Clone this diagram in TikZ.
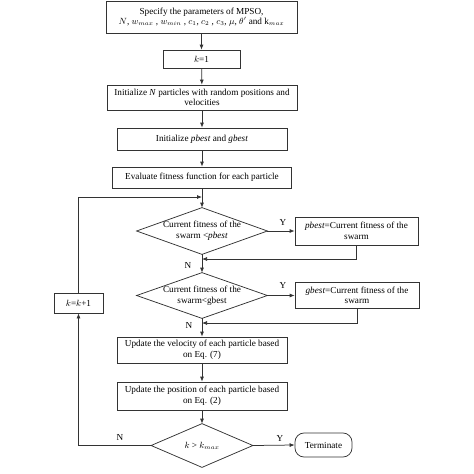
\documentclass[tikz,border=0pt]{standalone}
\usepackage{fontspec}
\setmainfont{Liberation Serif}
\usetikzlibrary{arrows.meta}
\begin{document}
\begin{tikzpicture}[x=1pt,y=-1pt,
  font=\fontsize{9.2}{10.6}\selectfont,
  line width=0.75pt,
  line/.style={draw=black!80},
  box/.style={draw=black!80,rectangle,align=center,inner sep=1pt},
  dia/.style={rectangle,align=center,inner sep=0pt},
  term/.style={draw=black!80,rectangle,rounded corners=9pt,align=center,inner sep=1pt},
  arr/.style={draw=black!80,-{Latex[length=5pt,width=4pt]}},
  lab/.style={inner sep=1pt}]
\useasboundingbox (0,0) rectangle (474,474);
% boxes
\node[box,minimum width=191,minimum height=32] (spec) at (201.5,17) {Specify the parameters of MPSO,\\ $N$, $w_{max}$ , $w_{min}$ , $c_1$, $c_2$ , $c_3$, $\mu$, $\theta'$ and k$_{max}$};
\node[box,minimum width=77,minimum height=18] (k1) at (201.5,59) {$k$=1};
\node[box,minimum width=190,minimum height=25] (init) at (202,97.5) {Initialize \textit{N} particles with random positions and\\velocities};
\node[box,minimum width=170,minimum height=22] (ipb) at (202,139) {Initialize \textit{pbest} and \textit{gbest}};
\node[box,minimum width=179,minimum height=21] (eval) at (202,177.5) {Evaluate fitness function for each particle};
\node[dia,minimum width=130,minimum height=46] (d1) at (202,231) {Current fitness of the\\swarm <\textit{pbest}};
\draw[line] (d1.north) -- (d1.east) -- (d1.south) -- (d1.west) -- cycle;
\node[box,minimum width=123,minimum height=28] (pb) at (356.5,231) {\textit{pbest}=Current fitness of the\\swarm};
\node[dia,minimum width=130,minimum height=45] (d2) at (202,295.5) {Current fitness of the\\swarm<gbest};
\draw[line] (d2.north) -- (d2.east) -- (d2.south) -- (d2.west) -- cycle;
\node[box,minimum width=124,minimum height=26] (gb) at (357,295.5) {\textit{gbest}=Current fitness of the\\swarm};
\node[box,minimum width=170,minimum height=26] (uv) at (202,350) {Update the velocity of each particle based\\on Eq. (7)};
\node[box,minimum width=170,minimum height=28] (up) at (202,396) {Update the position of each particle based\\on Eq. (2)};
\node[dia,minimum width=101,minimum height=43] (d3) at (202,445.5) {$k$ > $k_{max}$};
\draw[line] (d3.north) -- (d3.east) -- (d3.south) -- (d3.west) -- cycle;
\node[term,minimum width=57,minimum height=24] (term) at (323.5,445) {Terminate};
\node[box,minimum width=49,minimum height=20] (kk) at (78.5,303) {$k$=$k$+1};
\coordinate (j0) at (202,197);
\coordinate (j1) at (202,259);
\coordinate (j2) at (202,323);
% connectors
\draw[arr] (spec) -- (k1);
\draw[arr] (k1) -- (init);
\draw[arr] (init) -- (ipb);
\draw[arr] (ipb) -- (eval);
\draw[arr] (eval) -- (d1.north);
\draw[arr] (d1.east) -- (pb.west);
\draw[arr] (d1.south) -- (d2.north);
\draw[arr] (pb.south) |- (j1);
\draw[arr] (d2.east) -- (gb.west);
\draw[arr] (d2.south) -- (uv.north);
\draw[arr] (gb.south) |- (j2);
\draw[arr] (uv) -- (up);
\draw[arr] (up) -- (d3.north);
\draw[arr] (d3.east) -- (term.west);
\draw[arr] (d3.west) -| (kk.south);
\draw[arr] (kk.north) |- (j0);
% labels
\node[lab] at (283,222) {Y};
\node[lab] at (188,265) {N};
\node[lab] at (283,285) {Y};
\node[lab] at (189,325) {N};
\node[lab] at (120,437) {N};
\node[lab] at (280,438) {Y};
\end{tikzpicture}
\end{document}
